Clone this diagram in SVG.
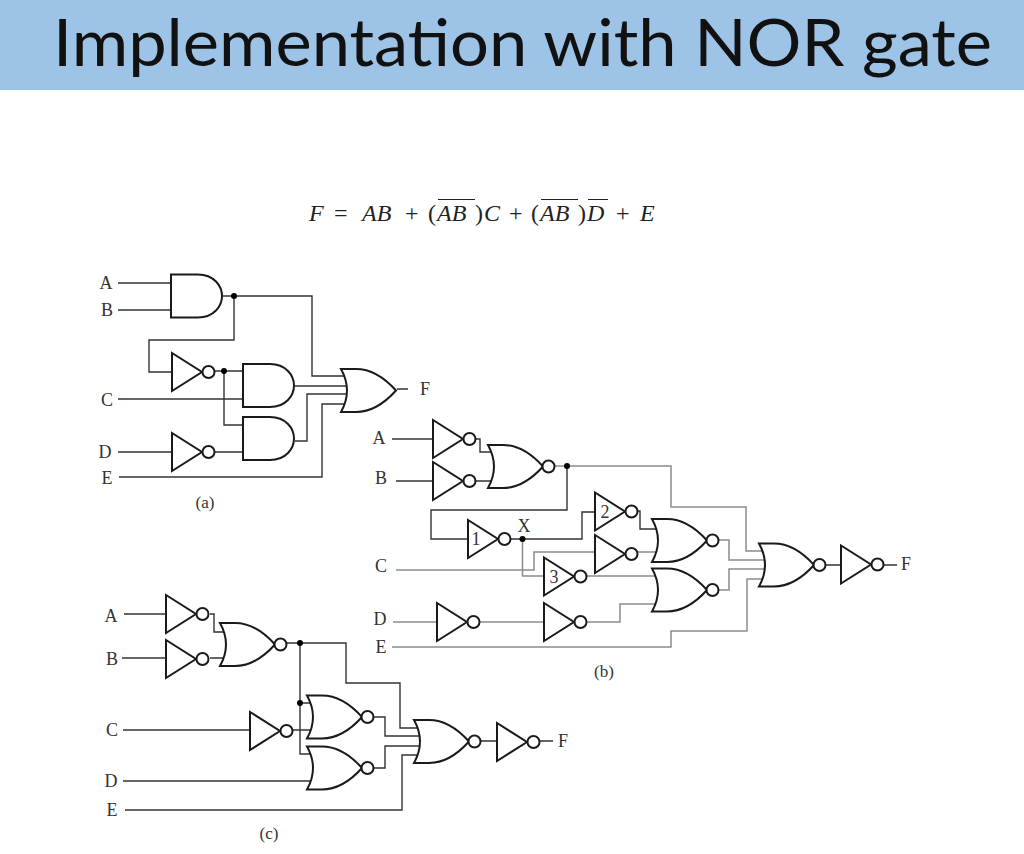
<svg xmlns="http://www.w3.org/2000/svg" width="1024" height="854" viewBox="0 0 1024 854">
<style>
.w{fill:none;stroke:#333;stroke-width:1.4}
.g{fill:none;stroke:#8c8c8c;stroke-width:1.5}
.s{fill:#fff;stroke:#1a1a1a;stroke-width:2}
.d{fill:#000}
.l{font-family:"Liberation Serif",serif;font-size:18px;fill:#333;text-anchor:middle}
.e{font-family:"Liberation Serif",serif;font-size:24px;font-style:italic;fill:#222}
.o{font-family:"Liberation Serif",serif;font-size:24px;fill:#222}
.b{stroke:#222;stroke-width:1.2}
</style>
<defs>
<g id="inv" class="s"><polygon points="0,-19 0,19 30,0"/><circle cx="36.5" cy="0" r="6"/></g>
<path id="and" class="s" d="M0-21.5H27C43-21.5 51-10 51 0C51 10 43 21.5 27 21.5H0Z"/>
<path id="or" class="s" d="M0-21.5H15C33-21.5 46-10 55 0C46 10 33 21.5 15 21.5H0Q12 0 0-21.5Z"/>
<g id="nor"><use href="#or"/><circle class="s" cx="60.5" cy="0" r="6"/></g>
</defs>
<rect id="title-bar" x="0" y="0" width="1024" height="90" fill="#9DC3E6"/>
<text id="title" x="53" y="66" font-family="Lato,'Open Sans',sans-serif" font-size="66" fill="#111" textLength="939" lengthAdjust="spacingAndGlyphs">Implementation with NOR gate</text>
<g id="equation">
<text class="e" x="309" y="221">F</text><text class="o" x="334" y="221">=</text><text class="e" x="362" y="221">AB</text><text class="o" x="405" y="221">+</text><text class="o" x="428" y="221">(</text><text class="e" x="437" y="221">AB</text><text class="o" x="475" y="221">)</text><text class="e" x="484" y="221">C</text><text class="o" x="509" y="221">+</text><text class="o" x="531" y="221">(</text><text class="e" x="540" y="221">AB</text><text class="o" x="578" y="221">)</text><text class="e" x="587" y="221">D</text><text class="o" x="616" y="221">+</text><text class="e" x="640" y="221">E</text>
<path class="b" d="M438 199.500H475M541 199.500H578M588 199.500H608"/>
</g>
<g id="connectors">
<g id="wires-a">
<path class="w" d="M118 283H171M118 310H171M222 296H312V376H345M234 296V340H149V372H172M215 371H243M224 371V425H243M118 399H243M295 386H347M295 441H307V394H347M118 452H172M215 452H243M119 477H322V404H345M397 389H408"/>
<circle class="d" cx="234" cy="296" r="3"/><circle class="d" cx="224" cy="371" r="3"/>
</g>
<g id="wires-b">
<path class="w" d="M392 439H433M396 481H433M476 439H480V452H492M476 481H492M468 539H431V510H567V466M510 539H582V512H595M637 511H640V529H656M842 565H826M884 565H897"/>
<path class="g" d="M554 466H671V507H746V551H762M396 570H534V552H595M522.500 539V576H544M587 576H656M637 552H656M393 622H437M479 622H544M587 622H620V604H656M392 647H671V631H747V579H762M719 540H729V560H764M719 590H729V569H764"/>
<circle class="d" cx="567" cy="466" r="3"/><circle class="d" cx="522.500" cy="539" r="3"/>
</g>
<g id="wires-c">
<path class="w" d="M124 614H166M122 658H166M210 614H214V632H226M210 658H224M286 643H346V683H400V728H420M300 643V754H312M300 703H312M123 730H250M293 730H312M123 781H312M125 810H402V755H420M374 717H385V736H421M374 768H385V746H421M480 741H497M538 741H553"/>
<circle class="d" cx="300" cy="643" r="3"/><circle class="d" cx="300" cy="703" r="3"/>
</g>
</g>
<g id="circuit-a">
<use id="a-and1" href="#and" x="171" y="296"/>
<use id="a-inv1" href="#inv" x="172" y="372"/>
<use id="a-and2" href="#and" x="243" y="385.500"/>
<use id="a-and3" href="#and" x="243" y="438.500"/>
<use id="a-inv2" href="#inv" x="172" y="452"/>
<use id="a-or" href="#or" x="341" y="390.500"/>
<g class="lbl"><text class="l" x="106" y="289">A</text><text class="l" x="107" y="316">B</text><text class="l" x="107" y="406">C</text><text class="l" x="105" y="458">D</text><text class="l" x="107" y="484">E</text><text class="l" x="425" y="395">F</text><text class="l" x="205" y="508" style="font-size:17px">(a)</text></g>
</g>
<g id="circuit-b">
<use id="b-inv-a" href="#inv" x="433" y="439"/>
<use id="b-inv-b" href="#inv" x="433" y="481"/>
<use id="b-nor1" href="#nor" x="488" y="466.500"/>
<use id="b-inv1" href="#inv" x="468" y="539"/>
<use id="b-inv2" href="#inv" x="595" y="511.500"/>
<use id="b-inv-m" href="#inv" x="595" y="554"/>
<use id="b-inv3" href="#inv" x="544" y="576.500"/>
<use id="b-inv-d1" href="#inv" x="437" y="622"/>
<use id="b-inv-d2" href="#inv" x="544" y="622"/>
<use id="b-nor2" href="#nor" x="652" y="540.500"/>
<use id="b-nor3" href="#nor" x="652" y="590"/>
<use id="b-nor4" href="#nor" x="759" y="565"/>
<use id="b-inv-f" href="#inv" x="841" y="564.500"/>
<g class="lbl"><text class="l" x="379" y="444">A</text><text class="l" x="381" y="484">B</text><text class="l" x="381" y="572">C</text><text class="l" x="380" y="625">D</text><text class="l" x="381" y="653">E</text><text class="l" x="906" y="570">F</text><text class="l" x="524" y="532">X</text><text class="l" x="476" y="545">1</text><text class="l" x="605" y="518">2</text><text class="l" x="554" y="583">3</text><text class="l" x="604" y="677" style="font-size:17px">(b)</text></g>
</g>
<g id="circuit-c">
<use id="c-inv-a" href="#inv" x="166" y="614"/>
<use id="c-inv-b" href="#inv" x="166" y="659"/>
<use id="c-nor1" href="#nor" x="220" y="644.500"/>
<use id="c-inv-c" href="#inv" x="250" y="731"/>
<use id="c-nor2" href="#nor" x="307" y="717"/>
<use id="c-nor3" href="#nor" x="307" y="768"/>
<use id="c-nor4" href="#nor" x="414" y="741.500"/>
<use id="c-inv-f" href="#inv" x="497" y="742"/>
<g class="lbl"><text class="l" x="111" y="622">A</text><text class="l" x="112" y="665">B</text><text class="l" x="112" y="736">C</text><text class="l" x="111" y="787">D</text><text class="l" x="112" y="816">E</text><text class="l" x="563" y="747">F</text><text class="l" x="269" y="839" style="font-size:17px">(c)</text></g>
</g>
</svg>
